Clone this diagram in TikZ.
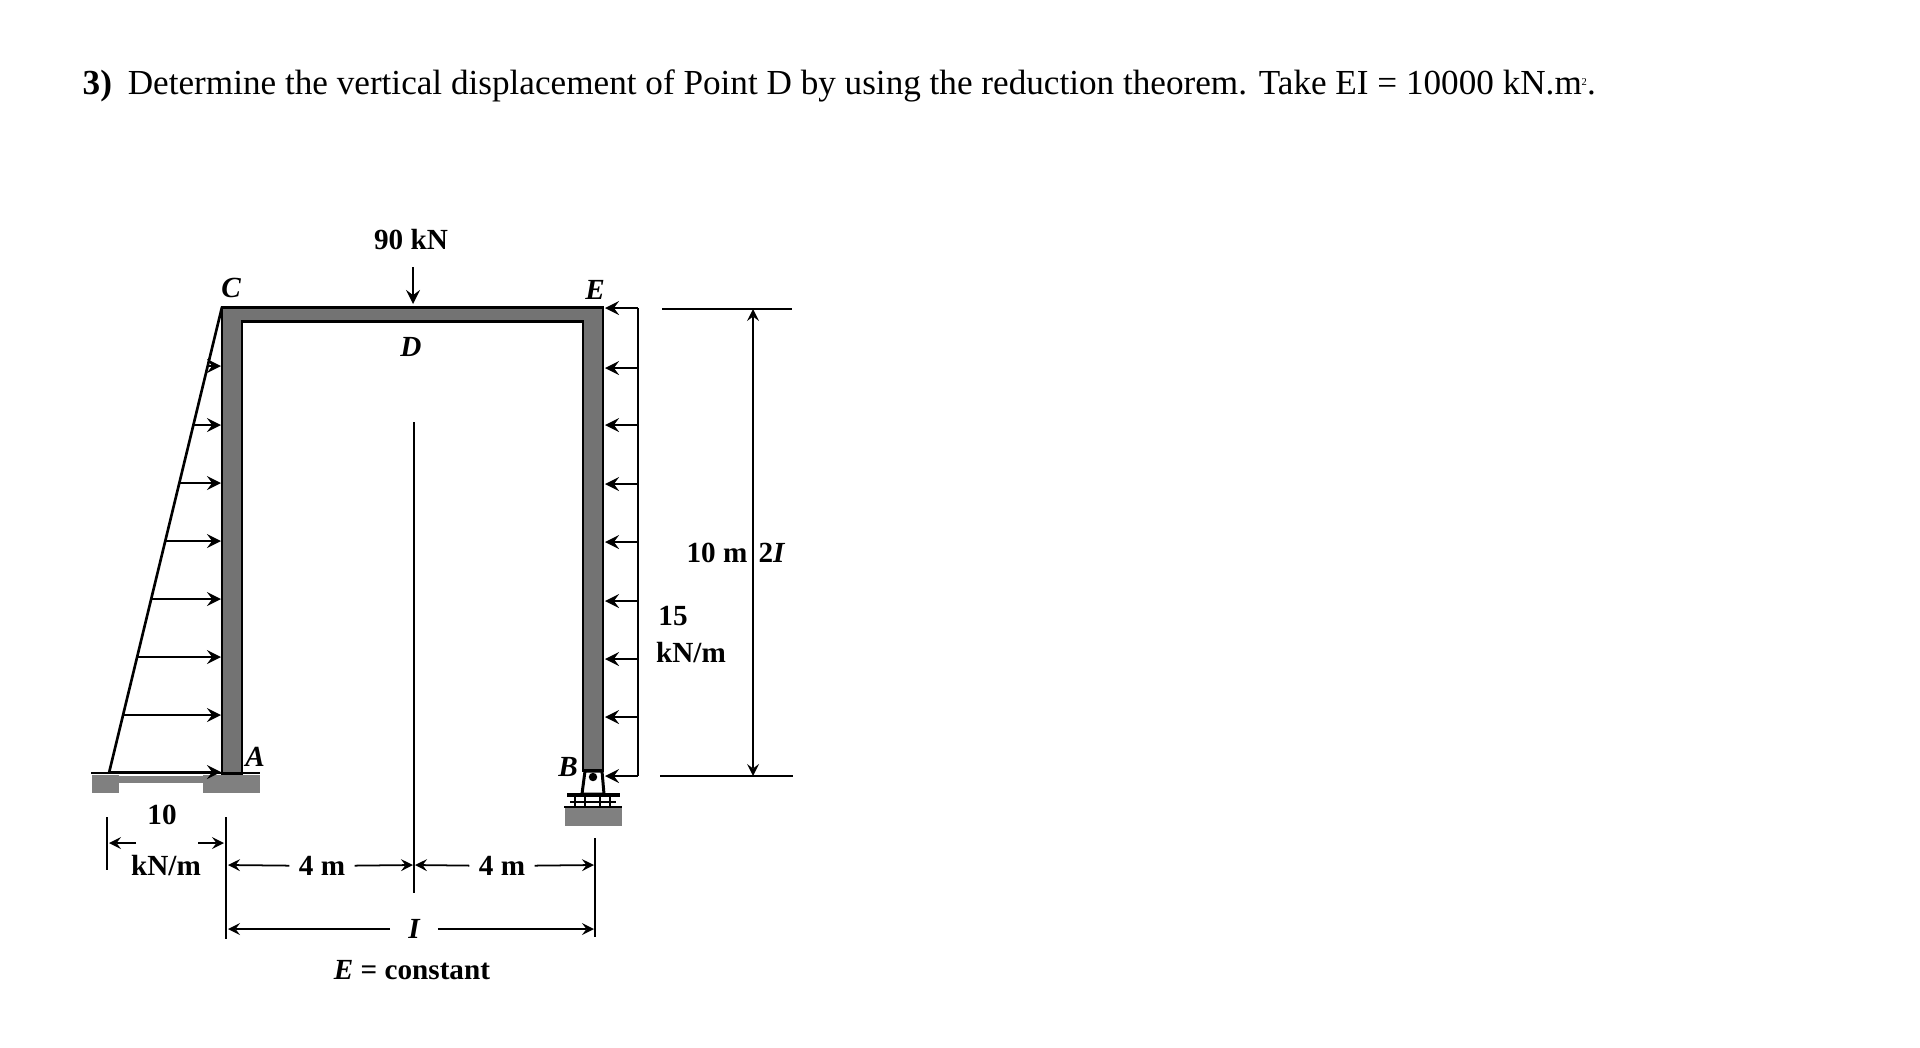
\documentclass[tikz,border=0pt]{standalone}
\usepackage{fontspec}
\setmainfont{Liberation Serif}
\usetikzlibrary{arrows,positioning}

\begin{document}
\begin{tikzpicture}[
    x=0.01cm, y=-0.01cm,
    % Styles
    member/.style={draw=black, fill=black!55, line width=0.85pt, line join=miter},
    ground/.style={fill=black!50, draw=none},
    label/.style={font=\fontsize{8.3}{10}\selectfont\bfseries, inner sep=0pt},
    letter/.style={font=\fontsize{8.3}{10}\selectfont\bfseries\itshape, inner sep=0pt},
    dimlabel/.style={font=\fontsize{8.3}{10}\selectfont\bfseries, inner sep=2.5pt},
    load/.style={->, >=stealth, line width=0.75pt},
    loadline/.style={line width=0.75pt},
    dimline/.style={line width=0.5pt},
    dimarrow/.style={->, >=stealth, line width=0.5pt}
]

\useasboundingbox (0,0) rectangle (1920,1048);

% Title
\node[anchor=base west, inner sep=0pt, font=\fontsize{10}{12}\selectfont] (title) at (82,94)
    {\textbf{3)}\hspace{0.45em}Determine the vertical displacement of Point D by using the reduction theorem. Take EI = 10000 kN.m\raisebox{0.55ex}{\fontsize{3}{3}\selectfont 2}.};

% Frame
\draw[member] (222,307) -- (603,307) -- (603,770) -- (583,770) -- (583,321)
    -- (242,321) -- (242,773) -- (222,773) -- cycle;

% Ground at A
\fill[ground] (92,775) rectangle (119,793);
\fill[ground] (119,776) rectangle (203,783);
\fill[ground] (203,775) rectangle (260,793);
\draw[line width=0.8pt] (91,773) coordinate (gl) -- (260,773) coordinate (gr);

% Support at B
\fill[ground] (565,808) rectangle (622,826);
\draw[member, fill=white] (585,771) -- (582,794) -- (604,794) -- (602,771) -- cycle;
\node[circle, fill=black, inner sep=0pt, minimum size=2.4pt] (pin) at (593,777) {};
\draw[line width=1.3pt] (567,795) -- (620,795);
\draw[line width=0.7pt] (564,807) -- (622,807);
\foreach \xr in {575,585,600,610} {
    \draw[line width=0.7pt] (\xr,797) -- (\xr,807);
}
\draw[line width=0.5pt] (570,802) -- (616,802);

% Triangular load (left)
\coordinate (apex) at (222,307);
\coordinate (foot) at (109,773);
\draw[loadline] (apex) -- (foot);
\foreach \ya in {366,425,483,541,599,657,715,772} {
    \pgfmathsetmacro{\xa}{222-(\ya-307)/466*113}
    \draw[load] (\xa,\ya) -- (221,\ya);
}

% Uniform load (right)
\coordinate (lt) at (638,308);
\coordinate (lb) at (638,776);
\draw[loadline] (lt) -- (lb);
\foreach \yb in {308,368,425,484,542,601,659,717,776} {
    \draw[load] (638,\yb) -- (605,\yb);
}

% Point load
\node[label] (force) at (411,240) {90 kN};
\coordinate (forcetop) at (413,267);
\coordinate (forcetip) at (413,304);
\draw[load] (forcetop) -- (forcetip);

% Point names
\node[letter] (C) at (231,288) {C};
\node[letter] (D) at (411,347) {D};
\node[letter] (E) at (595,290) {E};
\node[letter] (A) at (255,757) {A};
\node[letter] (B) at (568,767) {B};

% Dimension 10 m
\coordinate (dimtopa) at (662,309);
\coordinate (dimtopb) at (792,309);
\coordinate (dimbota) at (660,776);
\coordinate (dimbotb) at (793,776);
\coordinate (dimvt) at (753,309);
\coordinate (dimvb) at (753,776);
\draw[line width=0.65pt] (dimtopa) -- (dimtopb);
\draw[line width=0.65pt] (dimbota) -- (dimbotb);
\draw[dimarrow, <->] (dimvt) -- (dimvb);
\node[label] (ten) at (717,553) {10 m};
\node[label] (twoI) at (772,553) {2\textit{I}};

% Load values
\node[label] (rightval) at (673,616) {15};
\node[label] (rightunit) at (691,653) {kN/m};
\node[label] (leftval) at (162,815) {10};
\node[label] (leftunit) at (166,866) {kN/m};

% Load width at the foot
\coordinate (wa) at (107,817);
\coordinate (wb) at (107,870);
\coordinate (wc) at (226,817);
\coordinate (wd) at (226,939);
\draw[line width=0.6pt] (wa) -- (wb);
\draw[line width=0.6pt] (wc) -- (wd);
\coordinate (we) at (136,843);
\coordinate (wf) at (109,843);
\coordinate (wg) at (198,843);
\coordinate (wh) at (224,843);
\draw[dimarrow] (we) -- (wf);
\draw[dimarrow] (wg) -- (wh);

% Spans
\coordinate (ra) at (595,838);
\coordinate (rb) at (595,937);
\draw[line width=0.6pt] (ra) -- (rb);
\coordinate (ma) at (414,422);
\coordinate (mb) at (414,893);
\draw[line width=0.6pt] (ma) -- (mb);

\node[dimlabel] (spanl) at (322,866) {4 m};
\node[dimlabel] (spanr) at (502,866) {4 m};
\coordinate (sa) at (228,865);
\coordinate (sb) at (413,865);
\coordinate (sc) at (415,865);
\coordinate (sd) at (594,865);
\draw[dimarrow] (spanl) -- (sa);
\draw[dimarrow] (spanl) -- (sb);
\draw[dimarrow] (spanr) -- (sc);
\draw[dimarrow] (spanr) -- (sd);

\node[letter, inner sep=5pt] (inertia) at (414,929) {I};
\coordinate (ta) at (228,929);
\coordinate (tb) at (594,929);
\draw[dimarrow] (inertia) -- (ta);
\draw[dimarrow] (inertia) -- (tb);

\node[label] (note) at (412,970) {\textit{E} = constant};

\end{tikzpicture}
\end{document}
